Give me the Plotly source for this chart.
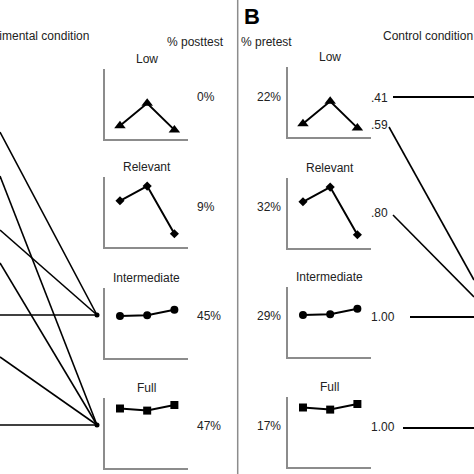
import plotly.graph_objects as go

W = H = 474
FONT = "Liberation Sans, Arial, sans-serif"

# ---- data ----
categories = ["Low", "Relevant", "Intermediate", "Full"]
profile_low = [0.19, 0.51, 0.13]
profile_relevant = [0.66, 0.87, 0.19]
profile_intermediate = [0.60, 0.61, 0.69]
profile_full = [0.85, 0.82, 0.90]
profile_x = [1, 2, 3]
posttest_pct = ["0%", "9%", "45%", "47%"]
pretest_pct = ["22%", "32%", "29%", "17%"]
control_labels = [".41", ".59", ".80", "1.00", "1.00"]

# transitions in the experimental panel (cropped at the left edge)
exp_start_y = [132, 176, 230, 263, 315, 357, 425]
exp_target = ["Intermediate", "Full", "Intermediate", "Full", "Intermediate", "Full", "Full"]
# transitions in the control panel (cropped at the right edge)
ctl_start_x = [393, 389, 393, 410, 403]
ctl_start_y = [97, 127, 215, 317, 428]
ctl_end_y = [97, 280, 297, 317, 428]

# ---- layout helpers (pixel geometry) ----
profiles = [profile_low, profile_relevant, profile_intermediate, profile_full]
symbols = ["triangle-up", "diamond", "circle", "square"]
msizes = [10, 7, 8, 8]
row_y = [97, 207, 316, 426]
node_y = {"Intermediate": 315, "Full": 425}
node_x = 97
left_box_x = 105
right_box_x = 288
box_w, box_h = 83, 70
left_tops = [69, 177, 288, 398]
right_tops = [67, 178, 287, 397]

fig = go.Figure()

# main pixel axis
fig.update_layout(
    xaxis=dict(domain=[0, 1], range=[0, W], visible=False, fixedrange=True),
    yaxis=dict(domain=[0, 1], range=[H, 0], visible=False, fixedrange=True),
)

line_style = dict(color="black", width=1.6)
for sy, tgt in zip(exp_start_y, exp_target):
    fig.add_trace(go.Scatter(x=[0, node_x], y=[sy, node_y[tgt]], mode="lines",
                             line=line_style, showlegend=False, hoverinfo="skip"))
fig.add_trace(go.Scatter(x=[node_x, node_x], y=[node_y["Intermediate"], node_y["Full"]],
                         mode="markers", marker=dict(color="black", size=5),
                         showlegend=False, hoverinfo="skip"))
for sx, sy, ey in zip(ctl_start_x, ctl_start_y, ctl_end_y):
    fig.add_trace(go.Scatter(x=[sx, W], y=[sy, ey], mode="lines",
                             line=dict(color="black", width=1.9 if sy == ey else 1.6),
                             showlegend=False, hoverinfo="skip"))

# insets
n = 2
for panel, (bx, tops) in enumerate([(left_box_x, left_tops), (right_box_x, right_tops)]):
    for i, cat in enumerate(categories):
        top = tops[i]
        xa, ya = f"xaxis{n}", f"yaxis{n}"
        fig.update_layout(**{
            xa: dict(domain=[bx / W, (bx + box_w) / W], range=[0.45, 3.5],
                     anchor=f"y{n}", showline=True, linecolor="#8c8c8c", linewidth=1.5,
                     showgrid=False, zeroline=False, showticklabels=False, ticks="",
                     fixedrange=True),
            ya: dict(domain=[1 - (top + box_h) / W, 1 - top / W], range=[0, 1],
                     anchor=f"x{n}", showline=True, linecolor="#8c8c8c", linewidth=1.5,
                     showgrid=False, zeroline=False, showticklabels=False, ticks="",
                     fixedrange=True),
        })
        fig.add_trace(go.Scatter(x=profile_x, y=profiles[i], xaxis=f"x{n}", yaxis=f"y{n}",
                                 mode="lines+markers", line=dict(color="black", width=2),
                                 marker=dict(symbol=symbols[i], size=msizes[i], color="black"),
                                 cliponaxis=False, showlegend=False, hoverinfo="skip"))
        fig.add_annotation(x=bx + box_w / 2, y=top - 10, xref="x", yref="y", text=cat,
                           showarrow=False, font=dict(size=12, color="#222", family=FONT))
        n += 1

def txt(x, y, s, anchor="left", size=12, bold=False):
    fig.add_annotation(x=x, y=y, xref="x", yref="y", text=f"<b>{s}</b>" if bold else s,
                       showarrow=False, xanchor=anchor, yanchor="middle",
                       font=dict(size=size, color="#222" if not bold else "black", family=FONT))

for i in range(4):
    txt(195, row_y[i], posttest_pct[i], "left")
    txt(283, row_y[i], pretest_pct[i], "right")
for lab, y in zip(control_labels, [98, 125, 213, 317, 427]):
    txt(369, y, lab, "left")

txt(91, 36, "Experimental condition", "right")
txt(165, 42, "% posttest", "left")
txt(239, 42, "% pretest", "left")
txt(381, 36, "Control condition", "left")
txt(242, 16, "B", "left", size=22, bold=True)

fig.add_shape(type="line", xref="paper", yref="paper", x0=237.7 / W, x1=237.7 / W,
              y0=0, y1=1, line=dict(color="#8c8c8c", width=1.5))

fig.update_layout(width=W, height=H, margin=dict(l=0, r=0, t=0, b=0),
                  paper_bgcolor="white", plot_bgcolor="rgba(0,0,0,0)",
                  showlegend=False, font=dict(family=FONT))

fig.write_html("out.html", config={"displayModeBar": False},
               post_script="document.body.style.margin='0px';document.body.style.padding='0px';")
